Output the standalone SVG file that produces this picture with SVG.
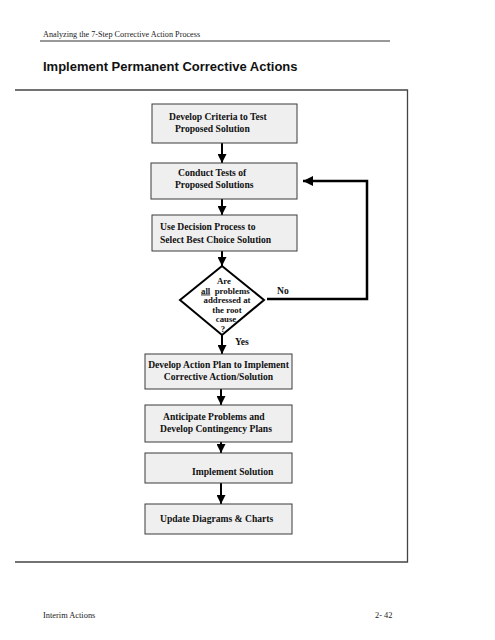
<svg xmlns="http://www.w3.org/2000/svg" width="495" height="640" viewBox="0 0 495 640">
<defs>
<style>
.box{fill:#efefef;stroke:#3a3a3a;stroke-width:1}
.t{font-family:"Liberation Serif",serif;font-weight:bold;font-size:9.6px;fill:#111}
.d{font-family:"Liberation Serif",serif;font-weight:bold;font-size:8.8px;fill:#111}
.c{stroke:#000;stroke-width:2;fill:none}
.fb{stroke:#000;stroke-width:2.5;fill:none}
.frame{stroke:#444;stroke-width:1.3;fill:none}
</style>
<marker id="ah" viewBox="0 0 10 10" refX="10" refY="5" markerWidth="9" markerHeight="9" markerUnits="userSpaceOnUse" orient="auto">
<path d="M0,0 L10,5 L0,10 z" fill="#000"/>
</marker>
<marker id="ah2" viewBox="0 0 10 10" refX="10" refY="5" markerWidth="11" markerHeight="10" markerUnits="userSpaceOnUse" orient="auto">
<path d="M0,0 L10,5 L0,10 z" fill="#000"/>
</marker>
</defs>
<rect width="495" height="640" fill="#fff"/>
<g id="header">
<text x="43" y="37" font-family="Liberation Serif,serif" font-size="8.2" fill="#222">Analyzing the 7-Step Corrective Action Process</text>
<line x1="40" y1="41" x2="390" y2="41" stroke="#333" stroke-width="1"/>
<text x="43" y="71" font-family="Liberation Sans,Arial,sans-serif" font-weight="bold" font-size="13" fill="#111">Implement Permanent Corrective Actions</text>
</g>
<g id="frame">
<polyline class="frame" points="15,90 407.5,90 407.5,562 15,562"/>
</g>
<g id="connectors">
<line class="c" x1="222" y1="143" x2="222" y2="163" marker-end="url(#ah)"/>
<line class="c" x1="222" y1="199" x2="222" y2="215" marker-end="url(#ah)"/>
<line class="c" x1="222" y1="251" x2="222" y2="266" marker-end="url(#ah)"/>
<line class="c" x1="222" y1="335" x2="222" y2="354" marker-end="url(#ah)"/>
<line class="c" x1="221" y1="389" x2="221" y2="405" marker-end="url(#ah)"/>
<line class="c" x1="221" y1="442" x2="221" y2="453" marker-end="url(#ah)"/>
<line class="c" x1="221" y1="483" x2="221" y2="504" marker-end="url(#ah)"/>
<polyline class="fb" points="267,299 367,299 367,181 303,181" marker-end="url(#ah2)"/>
<text class="t" x="277" y="294" font-size="9">No</text>
<text class="t" x="235" y="345" font-size="9">Yes</text>
</g>
<g id="n1">
<rect class="box" x="152" y="104" width="145" height="39"/>
<text class="t" x="169" y="120">Develop Criteria to Test</text>
<text class="t" x="175" y="132">Proposed Solution</text>
</g>
<g id="n2">
<rect class="box" x="151" y="163" width="146" height="36"/>
<text class="t" x="178" y="176">Conduct Tests of</text>
<text class="t" x="175" y="188">Proposed Solutions</text>
</g>
<g id="n3">
<rect class="box" x="152" y="215" width="145" height="36"/>
<text class="t" x="160" y="230">Use Decision Process to</text>
<text class="t" x="160" y="242.5">Select Best Choice Solution</text>
</g>
<g id="n4">
<polygon points="222,266 264,300 222,335 180,300" fill="#fff" stroke="#000" stroke-width="2"/>
<text class="d" x="224" y="284" text-anchor="middle">Are</text>
<text class="d" x="201" y="293.5" xml:space="preserve"><tspan text-decoration="underline">all</tspan>  problems</text>
<text class="d" x="227" y="303" text-anchor="middle">addressed at</text>
<text class="d" x="227" y="312.5" text-anchor="middle">the root</text>
<text class="d" x="226" y="322" text-anchor="middle">cause</text>
<text class="d" x="223" y="331.5" text-anchor="middle">?</text>
</g>
<g id="n5">
<rect class="box" x="145" y="354" width="147" height="35"/>
<text class="t" x="218.5" y="367.5" text-anchor="middle">Develop Action Plan to Implement</text>
<text class="t" x="218.5" y="379.5" text-anchor="middle">Corrective Action/Solution</text>
</g>
<g id="n6">
<rect class="box" x="145" y="405" width="147" height="37"/>
<text class="t" x="163" y="420">Anticipate Problems and</text>
<text class="t" x="160" y="432">Develop Contingency Plans</text>
</g>
<g id="n7">
<rect class="box" x="145" y="453" width="147" height="30"/>
<text class="t" x="192" y="475">Implement Solution</text>
</g>
<g id="n8">
<rect class="box" x="145" y="504" width="147" height="30"/>
<text class="t" x="160" y="521.5">Update Diagrams &amp; Charts</text>
</g>
<g id="footer">
<text x="43" y="618" font-family="Liberation Serif,serif" font-size="8.4" fill="#222">Interim Actions</text>
<text x="375" y="618" font-family="Liberation Serif,serif" font-size="8.4" fill="#222">2- 42</text>
</g>
</svg>
